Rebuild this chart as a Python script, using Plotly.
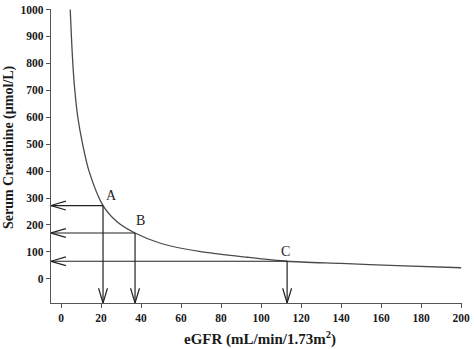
import plotly.graph_objects as go

# Serum creatinine vs eGFR relationship
curve_egfr = [4.6, 5.2, 5.9, 6.9, 8.4, 10.8, 14.0, 21, 28, 37, 50, 69, 93, 113, 140, 168, 200]
curve_scr = [1000, 900, 800, 700, 600, 500, 400, 272, 212, 170, 131, 102, 80, 65, 57, 49, 41]

# Marked example patients
point_labels = ["A", "B", "C"]
point_egfr = [21, 37, 113]
point_scr = [272, 170, 65]
label_shift_x = [8, 5, -2]
label_shift_y = [10, 13, 10]

x_ticks = list(range(0, 201, 20))
y_ticks = list(range(0, 1001, 100))
x_range = [-5, 200.4]
y_range = [-90, 1002]

W, H = 474, 349
M = dict(l=51, r=8, t=4, b=46)
plot_w = W - M["l"] - M["r"]
plot_h = H - M["t"] - M["b"]
ux = (x_range[1] - x_range[0]) / plot_w   # data units per pixel (x)
uy = (y_range[1] - y_range[0]) / plot_h   # data units per pixel (y)

head_len, head_half = 15, 4.5  # arrowhead size in pixels

serif = "Liberation Serif"
ink = "#222222"

fig = go.Figure()

fig.add_trace(go.Scatter(
    x=curve_egfr, y=curve_scr, mode="lines",
    line=dict(color="#4a4a4a", width=1.3, shape="spline", smoothing=0.8),
    hoverinfo="skip", showlegend=False,
))

# Reference lines: horizontal to the y axis, vertical to the x axis, open arrowheads
ax, ay = [], []
x0, y0 = x_range[0], y_range[0]
for ex, sc in zip(point_egfr, point_scr):
    # horizontal shaft and head
    ax += [ex, x0, None]
    ax += [x0 + head_len * ux, x0, x0 + head_len * ux, None]
    ay += [sc, sc, None]
    ay += [sc + head_half * uy, sc, sc - head_half * uy, None]
    # vertical shaft and head
    ax += [ex, ex, None]
    ax += [ex - head_half * ux, ex, ex + head_half * ux, None]
    ay += [sc, y0, None]
    ay += [y0 + head_len * uy, y0, y0 + head_len * uy, None]

fig.add_trace(go.Scatter(
    x=ax, y=ay, mode="lines",
    line=dict(color=ink, width=1.2),
    hoverinfo="skip", showlegend=False,
))

for lab, ex, sc, sx, sy in zip(point_labels, point_egfr, point_scr, label_shift_x, label_shift_y):
    fig.add_annotation(
        x=ex, y=sc, text=lab, showarrow=False,
        xshift=sx, yshift=sy, xanchor="center", yanchor="middle",
        font=dict(family=serif, size=14, color=ink),
    )

fig.add_annotation(
    xref="paper", yref="paper",
    x=(262 - M["l"]) / plot_w, y=-(339 - (H - M["b"])) / plot_h,
    yanchor="middle", xanchor="center",
    text="eGFR (mL/min/1.73m<sup>2</sup>)", showarrow=False,
    font=dict(family=serif, size=15, color="#1a1a1a", weight="bold"),
)
fig.add_annotation(
    xref="paper", yref="paper",
    x=-(M["l"] - 8) / plot_w, y=((H - M["b"]) - 144) / plot_h,
    xanchor="center", yanchor="middle",
    text="Serum Creatinine (µmol/L)", showarrow=False, textangle=-90,
    font=dict(family=serif, size=14, color="#1a1a1a", weight="bold"),
)

axis_common = dict(
    showgrid=False, zeroline=False, showline=True,
    linecolor="#555555", linewidth=1.2,
    ticks="outside", ticklen=4, tickwidth=1.1, tickcolor="#555555",
    ticklabeloverflow="allow",
    tickfont=dict(family=serif, size=11.5, color="#1a1a1a", weight="bold"),
)

fig.update_xaxes(range=x_range, tickvals=x_ticks, **axis_common)
fig.update_yaxes(range=y_range, tickvals=y_ticks, **axis_common)

fig.update_layout(
    width=W, height=H, margin=M,
    paper_bgcolor="white", plot_bgcolor="white",
    showlegend=False,
)

fig.write_html("out.html")
